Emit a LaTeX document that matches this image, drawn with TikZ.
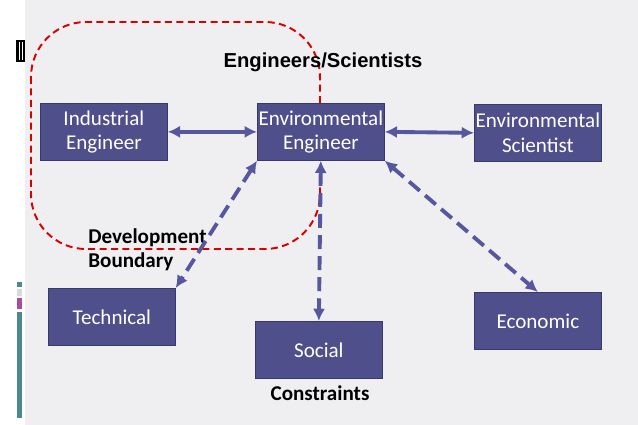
\documentclass[tikz,border=0pt]{standalone}
\usepackage{fontspec}
\setmainfont{Carlito}
\newfontfamily\arialf{Liberation Sans}
\definecolor{boxc}{HTML}{4F4F8C}
\definecolor{boxb}{HTML}{3A3A6A}
\definecolor{arr}{HTML}{5757A0}
\definecolor{bg}{HTML}{EFEFF1}
\definecolor{teal}{HTML}{4A8A8C}
\begin{document}
\begin{tikzpicture}[x=0.02cm,y=-0.02cm,
  box/.style={draw=boxb,fill=boxc,text=white,minimum width=127*0.02cm,minimum height=57*0.02cm,align=center,font=\fontsize{12}{14}\selectfont,inner sep=0pt,anchor=north west},
  link/.style={arr,line width=2.2pt,{Latex[length=7pt,width=7pt]}-{Latex[length=7pt,width=7pt]}},
  dlink/.style={link,dash pattern=on 8pt off 4pt},
  lab/.style={font=\bfseries\fontsize{12}{14}\selectfont,align=left}]
\usetikzlibrary{arrows.meta}
\fill[white] (0,0) rectangle (638,425);
\fill[bg] (25,0) rectangle (638,425);
\fill[black] (16,40) rectangle (25,62);
\fill[white] (19,42) rectangle (20,60);
\fill[white] (22,42) rectangle (23,60);
\fill[teal] (17,282) rectangle (22,287);
\fill[gray!30] (17,289) rectangle (22,296);
\fill[violet!70] (17,298) rectangle (22,309);
\fill[teal] (17,312) rectangle (22,418);
\draw[red!85!black,line width=1.1pt,dash pattern=on 4pt off 2.5pt,rounded corners=55*0.02cm] (31,22) rectangle (320,249);
\node[font=\arialf\bfseries\fontsize{11.5}{13}\selectfont] (es) at (323,62) {Engineers/Scientists};
\node[box] (ie) at (40,103) {Industrial\\Engineer};
\node[box] (ee) at (257,103) {Environmental\\Engineer};
\node[box] (sc) at (474,104) {Environmental\\Scientist};
\node[box] (te) at (48,288) {Technical};
\node[box] (so) at (255,321) {Social};
\node[box] (ec) at (474,292) {Economic};
\node[lab,anchor=north west,inner sep=0pt] (db) at (88,228) {Development\\Boundary};
\node[lab] (co) at (320,393) {Constraints};
\draw[link] (ie.east) -- (ee.west);
\draw[link] (ee.east) -- (sc.west);
\draw[dlink] (ee.south west) -- (te.north east);
\draw[dlink] (ee.south) -- (so.north);
\draw[dlink] (ee.south east) -- (ec.north);
\end{tikzpicture}
\end{document}
